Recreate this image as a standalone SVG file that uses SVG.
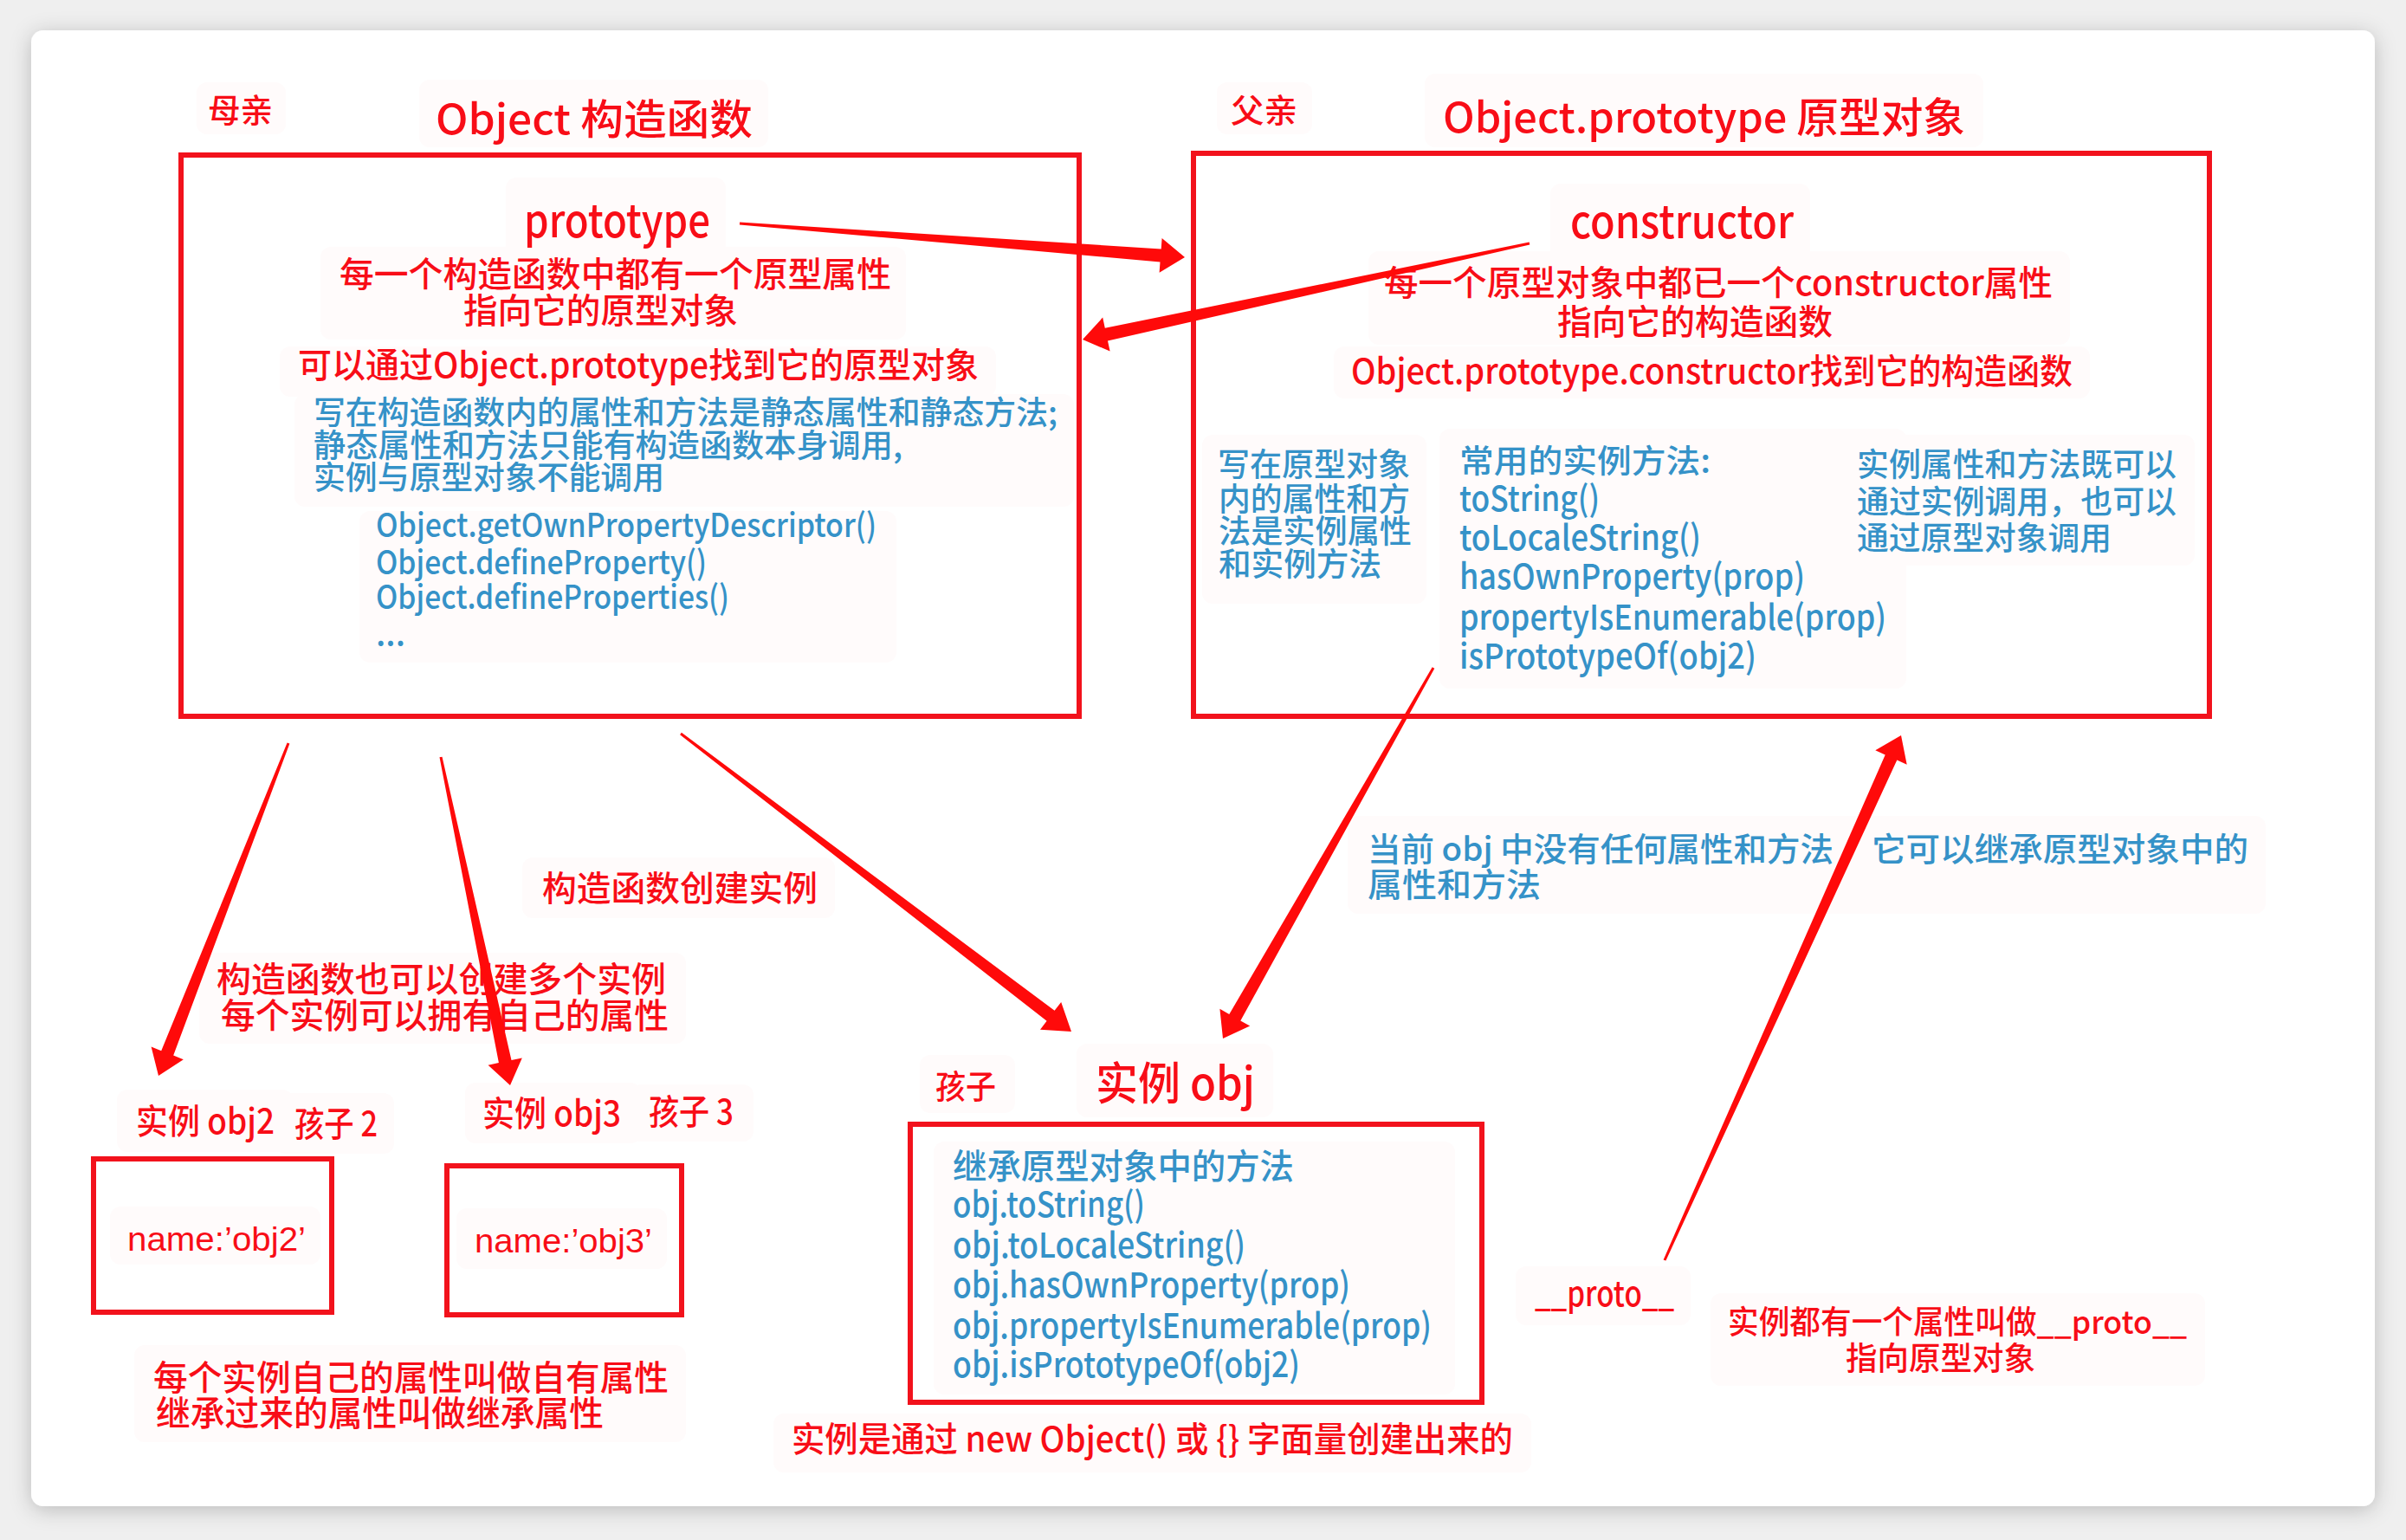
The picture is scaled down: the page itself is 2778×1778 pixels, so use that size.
<svg xmlns="http://www.w3.org/2000/svg" width="2778" height="1778" viewBox="0 0 2778 1778">
<defs>
<filter id="sh" x="-5%" y="-5%" width="110%" height="110%">
<feDropShadow dx="0" dy="4" stdDeviation="12" flood-color="#000" flood-opacity="0.22"/>
</filter>
<style>
text{font-family:"Noto Sans CJK SC","Liberation Sans",sans-serif;font-weight:500;}
.r{fill:#f80d17;}
.b{fill:#3592c8;}
.lat{font-family:"Liberation Sans","Noto Sans CJK SC",sans-serif;}
.box{fill:none;stroke:#f2121c;stroke-width:6;}
.bg{fill:#fffbfb;}
.arr{fill:#ff0a0a;}
</style>
</defs>
<rect x="0" y="0" width="2778" height="1778" fill="#efefef"/>
<rect x="36" y="35" width="2706" height="1704" rx="14" fill="#ffffff" filter="url(#sh)"/>

<g id="bgs">
<rect class="bg" x="227" y="95" width="103" height="60" rx="12"/>
<rect class="bg" x="484" y="92" width="403" height="78" rx="12"/>
<rect class="bg" x="584" y="205" width="254" height="91" rx="12"/>
<rect class="bg" x="370" y="285" width="676" height="107" rx="12"/>
<rect class="bg" x="323" y="400" width="827" height="58" rx="12"/>
<rect class="bg" x="340" y="455" width="900" height="130" rx="12"/>
<rect class="bg" x="415" y="590" width="620" height="175" rx="12"/>
<rect class="bg" x="1405" y="95" width="110" height="60" rx="12"/>
<rect class="bg" x="1645" y="85" width="645" height="85" rx="12"/>
<rect class="bg" x="1790" y="212" width="300" height="88" rx="12"/>
<rect class="bg" x="1580" y="290" width="810" height="108" rx="12"/>
<rect class="bg" x="1540" y="400" width="873" height="60" rx="12"/>
<rect class="bg" x="1388" y="502" width="259" height="195" rx="12"/>
<rect class="bg" x="1662" y="495" width="539" height="300" rx="12"/>
<rect class="bg" x="2126" y="502" width="408" height="151" rx="12"/>
<rect class="bg" x="603" y="990" width="361" height="70" rx="12"/>
<rect class="bg" x="230" y="1100" width="562" height="105" rx="12"/>
<rect class="bg" x="135" y="1258" width="203" height="72" rx="12"/>
<rect class="bg" x="318" y="1262" width="137" height="70" rx="12"/>
<rect class="bg" x="537" y="1250" width="203" height="70" rx="12"/>
<rect class="bg" x="728" y="1252" width="142" height="66" rx="12"/>
<rect class="bg" x="127" y="1393" width="243" height="67" rx="12"/>
<rect class="bg" x="527" y="1395" width="243" height="70" rx="12"/>
<rect class="bg" x="155" y="1553" width="637" height="112" rx="12"/>
<rect class="bg" x="1062" y="1218" width="110" height="67" rx="12"/>
<rect class="bg" x="1243" y="1205" width="227" height="85" rx="12"/>
<rect class="bg" x="1078" y="1318" width="602" height="292" rx="12"/>
<rect class="bg" x="893" y="1632" width="875" height="68" rx="12"/>
<rect class="bg" x="1556" y="942" width="1060" height="113" rx="12"/>
<rect class="bg" x="1750" y="1462" width="202" height="68" rx="12"/>
<rect class="bg" x="1975" y="1493" width="571" height="107" rx="12"/>
</g>

<g id="mother">
<text class="r" x="240" y="141" font-size="38" textLength="75" lengthAdjust="spacingAndGlyphs">母亲</text>
<text class="r" x="503" y="155" font-size="48" textLength="366" lengthAdjust="spacingAndGlyphs">Object 构造函数</text>
<rect class="box" x="209" y="179" width="1037" height="648"/>
<text class="r" x="605" y="274" font-size="52" textLength="215" lengthAdjust="spacingAndGlyphs">prototype</text>
<text class="r" x="392" y="331" font-size="40" textLength="637" lengthAdjust="spacingAndGlyphs">每一个构造函数中都有一个原型属性</text>
<text class="r" x="535" y="373" font-size="40" textLength="317" lengthAdjust="spacingAndGlyphs">指向它的原型对象</text>
<text class="r" x="344" y="436" font-size="40" textLength="786" lengthAdjust="spacingAndGlyphs">可以通过Object.prototype找到它的原型对象</text>
<text class="b" x="362" y="490" font-size="37" textLength="859" lengthAdjust="spacingAndGlyphs">写在构造函数内的属性和方法是静态属性和静态方法;</text>
<text class="b" x="362" y="528" font-size="37" textLength="680" lengthAdjust="spacingAndGlyphs">静态属性和方法只能有构造函数本身调用,</text>
<text class="b" x="362" y="565" font-size="37" textLength="405" lengthAdjust="spacingAndGlyphs">实例与原型对象不能调用</text>
<text class="b" x="434" y="620" font-size="38" textLength="578" lengthAdjust="spacingAndGlyphs">Object.getOwnPropertyDescriptor()</text>
<text class="b" x="434" y="663" font-size="38" textLength="382" lengthAdjust="spacingAndGlyphs">Object.defineProperty()</text>
<text class="b" x="434" y="703" font-size="38" textLength="408" lengthAdjust="spacingAndGlyphs">Object.defineProperties()</text>
<text class="b" x="434" y="746" font-size="38">...</text>
</g>

<g id="father">
<text class="r" x="1421" y="141" font-size="38" textLength="77" lengthAdjust="spacingAndGlyphs">父亲</text>
<text class="r" x="1666" y="153" font-size="48" textLength="603" lengthAdjust="spacingAndGlyphs">Object.prototype 原型对象</text>
<rect class="box" x="1378" y="177" width="1173" height="650"/>
<text class="r" x="1813" y="275" font-size="52" textLength="258" lengthAdjust="spacingAndGlyphs">constructor</text>
<text class="r" x="1598" y="341" font-size="40" textLength="772" lengthAdjust="spacingAndGlyphs">每一个原型对象中都已一个constructor属性</text>
<text class="r" x="1798" y="386" font-size="40" textLength="318" lengthAdjust="spacingAndGlyphs">指向它的构造函数</text>
<text class="r" x="1560" y="443" font-size="40" textLength="833" lengthAdjust="spacingAndGlyphs">Object.prototype.constructor找到它的构造函数</text>
<text class="b" x="1406" y="550" font-size="37" textLength="222" lengthAdjust="spacingAndGlyphs">写在原型对象</text>
<text class="b" x="1407" y="590" font-size="37" textLength="221" lengthAdjust="spacingAndGlyphs">内的属性和方</text>
<text class="b" x="1407" y="627" font-size="37" textLength="223" lengthAdjust="spacingAndGlyphs">法是实例属性</text>
<text class="b" x="1407" y="665" font-size="37" textLength="188" lengthAdjust="spacingAndGlyphs">和实例方法</text>
<text class="b" x="1685" y="546" font-size="37" textLength="290" lengthAdjust="spacingAndGlyphs">常用的实例方法:</text>
<text class="b" x="1685" y="590" font-size="40" textLength="162" lengthAdjust="spacingAndGlyphs">toString()</text>
<text class="b" x="1685" y="635" font-size="40" textLength="279" lengthAdjust="spacingAndGlyphs">toLocaleString()</text>
<text class="b" x="1685" y="680" font-size="40" textLength="399" lengthAdjust="spacingAndGlyphs">hasOwnProperty(prop)</text>
<text class="b" x="1685" y="727" font-size="40" textLength="493" lengthAdjust="spacingAndGlyphs">propertyIsEnumerable(prop)</text>
<text class="b" x="1685" y="772" font-size="40" textLength="343" lengthAdjust="spacingAndGlyphs">isPrototypeOf(obj2)</text>
<text class="b" x="2144" y="550" font-size="37" textLength="369" lengthAdjust="spacingAndGlyphs">实例属性和方法既可以</text>
<text class="b" x="2144" y="593" font-size="37" textLength="369" lengthAdjust="spacingAndGlyphs">通过实例调用，也可以</text>
<text class="b" x="2144" y="635" font-size="37" textLength="294" lengthAdjust="spacingAndGlyphs">通过原型对象调用</text>
</g>

<g id="obj2">
<text class="r" x="157" y="1309" font-size="40" textLength="160" lengthAdjust="spacingAndGlyphs">实例 obj2</text>
<text class="r" x="340" y="1312" font-size="40" textLength="96" lengthAdjust="spacingAndGlyphs">孩子 2</text>
<rect class="box" x="108" y="1338" width="275" height="177"/>
<text class="r lat" x="147" y="1444" font-size="38" textLength="206" lengthAdjust="spacingAndGlyphs">name:’obj2’</text>
</g>

<g id="obj3">
<text class="r" x="557" y="1300" font-size="40" textLength="160" lengthAdjust="spacingAndGlyphs">实例 obj3</text>
<text class="r" x="749" y="1298" font-size="40" textLength="98" lengthAdjust="spacingAndGlyphs">孩子 3</text>
<rect class="box" x="516" y="1346" width="271" height="172"/>
<text class="r lat" x="548" y="1446" font-size="38" textLength="205" lengthAdjust="spacingAndGlyphs">name:’obj3’</text>
</g>

<g id="notes">
<text class="r" x="626" y="1040" font-size="40" textLength="318" lengthAdjust="spacingAndGlyphs">构造函数创建实例</text>
<text class="r" x="250" y="1145" font-size="40" textLength="519" lengthAdjust="spacingAndGlyphs">构造函数也可以创建多个实例</text>
<text class="r" x="255" y="1187" font-size="40" textLength="517" lengthAdjust="spacingAndGlyphs">每个实例可以拥有自己的属性</text>
<text class="r" x="177" y="1605" font-size="40" textLength="595" lengthAdjust="spacingAndGlyphs">每个实例自己的属性叫做自有属性</text>
<text class="r" x="180" y="1646" font-size="40" textLength="517" lengthAdjust="spacingAndGlyphs">继承过来的属性叫做继承属性</text>
<text class="b" x="1579" y="994" font-size="38" textLength="538" lengthAdjust="spacingAndGlyphs">当前 obj 中没有任何属性和方法</text>
<text class="b" x="2161" y="994" font-size="38" textLength="435" lengthAdjust="spacingAndGlyphs">它可以继承原型对象中的</text>
<text class="b" x="1579" y="1035" font-size="38" textLength="200" lengthAdjust="spacingAndGlyphs">属性和方法</text>
<text class="r" x="1772" y="1508" font-size="40" textLength="161" lengthAdjust="spacingAndGlyphs">__proto__</text>
<text class="r" x="1995" y="1540" font-size="37" textLength="530" lengthAdjust="spacingAndGlyphs">实例都有一个属性叫做__proto__</text>
<text class="r" x="2131" y="1582" font-size="37" textLength="219" lengthAdjust="spacingAndGlyphs">指向原型对象</text>
</g>

<g id="obj">
<text class="r" x="1080" y="1268" font-size="38" textLength="70" lengthAdjust="spacingAndGlyphs">孩子</text>
<text class="r" x="1265" y="1270" font-size="52" textLength="184" lengthAdjust="spacingAndGlyphs">实例 obj</text>
<rect class="box" x="1051" y="1298" width="660" height="321"/>
<text class="b" x="1100" y="1361" font-size="40" textLength="394" lengthAdjust="spacingAndGlyphs">继承原型对象中的方法</text>
<text class="b" x="1100" y="1405" font-size="40" textLength="222" lengthAdjust="spacingAndGlyphs">obj.toString()</text>
<text class="b" x="1100" y="1452" font-size="40" textLength="338" lengthAdjust="spacingAndGlyphs">obj.toLocaleString()</text>
<text class="b" x="1100" y="1498" font-size="40" textLength="459" lengthAdjust="spacingAndGlyphs">obj.hasOwnProperty(prop)</text>
<text class="b" x="1100" y="1545" font-size="40" textLength="553" lengthAdjust="spacingAndGlyphs">obj.propertyIsEnumerable(prop)</text>
<text class="b" x="1100" y="1590" font-size="40" textLength="401" lengthAdjust="spacingAndGlyphs">obj.isPrototypeOf(obj2)</text>
<text class="r" x="914" y="1676" font-size="40" textLength="833" lengthAdjust="spacingAndGlyphs">实例是通过 new Object() 或 {} 字面量创建出来的</text>
</g>

<g id="connectors">
<polygon class="arr" points="853.9,259.5 1339.5,302.4 1338.6,314.8 1368,297 1341.6,275 1340.7,287.4 854.1,256.5"/>
<polygon class="arr" points="1765.7,279.5 1275.8,378.8 1273.2,366.6 1250,392 1281.6,405.6 1279,393.4 1766.3,282.5"/>
<polygon class="arr" points="331.6,857.5 186.2,1213.2 174.6,1208.6 183,1242 211.8,1223.2 200.2,1218.6 334.4,858.5"/>
<polygon class="arr" points="507.5,874.3 575.9,1227.1 563.6,1229.7 589,1253 602.8,1221.5 590.5,1224.1 510.5,873.7"/>
<polygon class="arr" points="785.1,848.2 1208.6,1178.8 1201,1188.7 1237,1191 1225.2,1156.9 1217.6,1166.8 786.9,845.8"/>
<polygon class="arr" points="1653.7,770.3 1419.3,1171 1408.4,1164.8 1412,1199 1443.2,1184.6 1432.3,1178.4 1656.3,771.7"/>
<polygon class="arr" points="1923.4,1455.6 2190.3,877.6 2201.7,882.7 2195,849 2165.3,866.3 2176.7,871.4 1920.6,1454.4"/>
</g>
</svg>
